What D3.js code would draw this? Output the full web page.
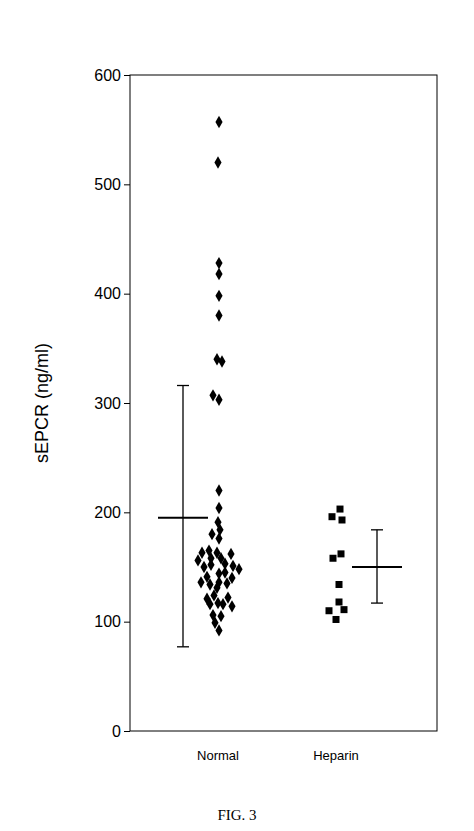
<!DOCTYPE html><html><head><script src="https://d3js.org/d3.v7.min.js"></script>
<style>body{margin:0;background:#fff}</style></head><body><svg id="c" width="474" height="831"></svg>
<script>
const categories=["Normal","Heparin"];
const normalValues=[557,520,428,418,398,380,340,338,307,303,220,204,191,184,180,176,163,165,163,162,156,158,158,150,152,153,151,148,144,145,141,140,136,134,136,135,131,124,121,122,116,117,116,114,106,105,99,92];
const normalJitter=[1,0,1,1,1,1,-1,4,-5,1,1,1,0,2,-6,1,-16,-9,-1,13,-20,-7,3,-14,-7,7,15,21,1,7,-11,14,-17,-8,1,9,-1,-4,-11,10,-8,0,5,14,-5,3,-3,1];
const heparinValues=[203,196,193,162,158,134,118,110,111,102];
const heparinJitter=[4,-4,6,5,-3,3,3,-7,8,0];
const means=[195,150];
const errLow=[77,117];
const errHigh=[316,184];
const yTicks=[0,100,200,300,400,500,600];

const svg=d3.select("#c");
const y=d3.scaleLinear().domain([0,600]).range([731,75]);
const x=d3.scaleLinear().domain([0,1]).range([218,336]);
const mx=d3.scaleLinear().domain([0,1]).range([183,377]);
const L=130,R=437;
svg.append("rect").attr("x",L).attr("y",75).attr("width",R-L).attr("height",656).attr("fill","none").attr("stroke","#000").attr("stroke-width",1);
const ax=svg.append("g").attr("transform",`translate(${L},0)`).call(d3.axisLeft(y).tickValues(yTicks).tickSize(6).tickPadding(3));
ax.select(".domain").remove();
ax.selectAll("text").attr("font-family","Liberation Sans, Arial").attr("font-size",16).attr("fill","#000");
svg.append("text").attr("transform","translate(48,403) rotate(-90)").attr("text-anchor","middle").attr("font-family","Liberation Sans, Arial").attr("font-size",18).text("sEPCR (ng/ml)");
categories.forEach((c,i)=>svg.append("text").attr("x",x(i)).attr("y",760).attr("text-anchor","middle").attr("font-family","Liberation Sans, Arial").attr("font-size",13).text(c));
svg.append("text").attr("x",237).attr("y",820).attr("text-anchor","middle").attr("font-family","Liberation Serif, Times New Roman").attr("font-size",15).text("FIG. 3");
const sym=d3.symbol().type(d3.symbolDiamond).size(44);
svg.selectAll(".n").data(normalValues).join("path").attr("d",sym).attr("transform",(d,i)=>`translate(${x(0)+normalJitter[i]},${y(d)}) rotate(0)`).attr("fill","#000");
svg.selectAll(".h").data(heparinValues).join("rect").attr("x",(d,i)=>x(1)+heparinJitter[i]-3.5).attr("y",d=>y(d)-3.5).attr("width",7).attr("height",7).attr("fill","#000");
means.forEach((m,i)=>{
  const cx=mx(i);
  const g=svg.append("g").attr("stroke","#000").attr("stroke-width",1.3);
  g.append("line").attr("x1",cx).attr("x2",cx).attr("y1",y(errLow[i])).attr("y2",y(errHigh[i]));
  g.append("line").attr("x1",cx-6).attr("x2",cx+6).attr("y1",y(errLow[i])).attr("y2",y(errLow[i]));
  g.append("line").attr("x1",cx-6).attr("x2",cx+6).attr("y1",y(errHigh[i])).attr("y2",y(errHigh[i]));
  g.append("line").attr("x1",cx-25).attr("x2",cx+25).attr("y1",y(m)).attr("y2",y(m)).attr("stroke-width",2);
});
</script></body></html>
